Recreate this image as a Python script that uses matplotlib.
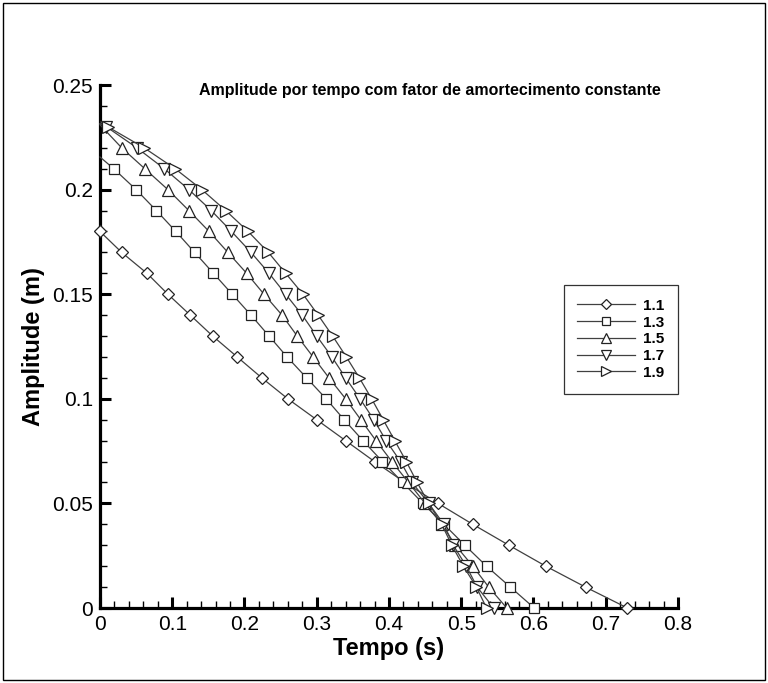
# Amplitude x tempo, varios fatores

import numpy as np
import matplotlib
matplotlib.use('Agg')
import matplotlib.pyplot as plt
from matplotlib.patches import Rectangle
from matplotlib.ticker import MultipleLocator

plt.rcParams['font.family'] = ['Liberation Sans', 'DejaVu Sans']

# dados
labels = ['1.1', '1.3', '1.5', '1.7', '1.9']

t11 = [0, 0.030, 0.065, 0.094, 0.125, 0.156, 0.190, 0.224, 0.260, 0.300,
       0.340, 0.380, 0.422, 0.468, 0.516, 0.566, 0.617, 0.672, 0.730]
a11 = [0.18, 0.17, 0.16, 0.15, 0.14, 0.13, 0.12, 0.11, 0.10, 0.09,
       0.08, 0.07, 0.06, 0.05, 0.04, 0.03, 0.02, 0.01, 0.0]

t13 = [0, 0.019, 0.050, 0.078, 0.105, 0.131, 0.157, 0.183, 0.209, 0.234,
       0.259, 0.286, 0.313, 0.338, 0.364, 0.391, 0.419, 0.447, 0.476, 0.505,
       0.535, 0.568, 0.601]
a13 = [0.2156, 0.21, 0.20, 0.19, 0.18, 0.17, 0.16, 0.15, 0.14, 0.13,
       0.12, 0.11, 0.10, 0.09, 0.08, 0.07, 0.06, 0.05, 0.04, 0.03,
       0.02, 0.01, 0.0]

t15 = [0, 0.030, 0.062, 0.094, 0.123, 0.151, 0.177, 0.203, 0.227, 0.252,
       0.273, 0.295, 0.317, 0.340, 0.361, 0.382, 0.404, 0.427, 0.450, 0.473,
       0.492, 0.516, 0.538, 0.563]
a15 = [0.231, 0.22, 0.21, 0.20, 0.19, 0.18, 0.17, 0.16, 0.15, 0.14,
       0.13, 0.12, 0.11, 0.10, 0.09, 0.08, 0.07, 0.06, 0.05, 0.04,
       0.03, 0.02, 0.01, 0.0]

t17 = [0, 0.009, 0.051, 0.089, 0.123, 0.154, 0.182, 0.209, 0.234, 0.257,
       0.280, 0.300, 0.321, 0.340, 0.360, 0.379, 0.396, 0.416, 0.432, 0.455,
       0.476, 0.489, 0.507, 0.522, 0.545]
a17 = [0.2315, 0.23, 0.22, 0.21, 0.20, 0.19, 0.18, 0.17, 0.16, 0.15,
       0.14, 0.13, 0.12, 0.11, 0.10, 0.09, 0.08, 0.07, 0.06, 0.05,
       0.04, 0.03, 0.02, 0.01, 0.0]

t19 = [0, 0.011, 0.061, 0.104, 0.141, 0.174, 0.205, 0.233, 0.257, 0.281,
       0.302, 0.322, 0.341, 0.359, 0.376, 0.392, 0.408, 0.424, 0.439, 0.455,
       0.473, 0.487, 0.503, 0.521, 0.535]
a19 = [0.2315, 0.23, 0.22, 0.21, 0.20, 0.19, 0.18, 0.17, 0.16, 0.15,
       0.14, 0.13, 0.12, 0.11, 0.10, 0.09, 0.08, 0.07, 0.06, 0.05,
       0.04, 0.03, 0.02, 0.01, 0.0]

xticks = [0, 0.1, 0.2, 0.3, 0.4, 0.5, 0.6, 0.7, 0.8]
xticklabels = ['0', '0.1', '0.2', '0.3', '0.4', '0.5', '0.6', '0.7', '0.8']
yticks = [0, 0.05, 0.1, 0.15, 0.2, 0.25]
yticklabels = ['0', '0.05', '0.1', '0.15', '0.2', '0.25']

series = [(t11, a11), (t13, a13), (t15, a15), (t17, a17), (t19, a19)]
markers = ['D', 's', '^', 'v', '>']
msizes = [6.5, 7, 8.3, 8.3, 8.3]

fig = plt.figure(figsize=(7.68, 6.83), dpi=100)
ax = fig.add_axes([0.1302, 0.1098, 0.7526, 0.7657])

for i, (t, a) in enumerate(series):
    # primeiro ponto sem marcador (exceto 1.1)
    mk = slice(0, None) if i == 0 else slice(1, None)
    ax.plot(t, a, color='#404040', lw=0.9, marker=markers[i], ms=msizes[i],
            mfc='white', mec='#222222', mew=0.9, markevery=mk,
            label=labels[i], clip_on=False, zorder=3)

ax.set_xlim(0, 0.8)
ax.set_ylim(0, 0.25)
ax.set_xticks(xticks)
ax.set_xticklabels(xticklabels)
ax.set_yticks(yticks)
ax.set_yticklabels(yticklabels)
ax.xaxis.set_minor_locator(MultipleLocator(0.02))
ax.yaxis.set_minor_locator(MultipleLocator(0.01))

ax.spines['top'].set_visible(False)
ax.spines['right'].set_visible(False)
ax.spines['left'].set_linewidth(2.3)
ax.spines['bottom'].set_linewidth(2.3)
ax.tick_params(which='major', direction='in', length=8, width=2.2,
               labelsize=15, pad=5)
ax.tick_params(which='minor', direction='in', length=5, width=1)

ax.set_xlabel('Tempo (s)', fontsize=17, fontweight='bold', labelpad=2)
ax.set_ylabel('Amplitude (m)', fontsize=17, fontweight='bold', labelpad=5)

ax.text(0.57, 0.99, 'Amplitude por tempo com fator de amortecimento constante',
        transform=ax.transAxes, ha='center', va='center',
        fontsize=11.5, fontweight='bold')

leg = ax.legend(loc='upper right', bbox_to_anchor=(1.0, 0.6176),
                borderaxespad=0, handlelength=3.8, fontsize=11, markerscale=0.8,
                fancybox=False, frameon=True, borderpad=0.9,
                labelspacing=0.18, handletextpad=0.5)
leg.get_frame().set_edgecolor('black')
leg.get_frame().set_linewidth(0.9)
for txt in leg.get_texts():
    txt.set_fontweight('bold')

fig.patches.append(Rectangle((0.004, 0.004), 0.992, 0.992, transform=fig.transFigure,
                             fill=False, edgecolor='black', lw=1))

fig.savefig('out.png', dpi=100)
